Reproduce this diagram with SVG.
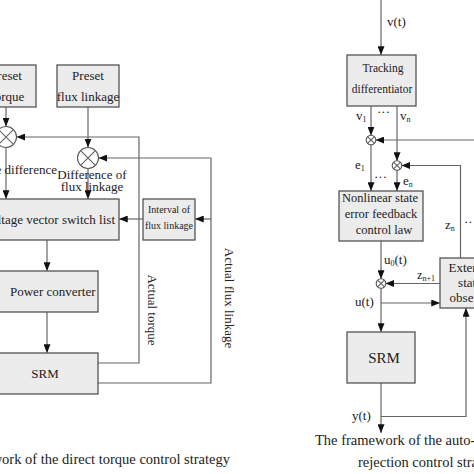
<svg xmlns="http://www.w3.org/2000/svg" width="474" height="474" viewBox="0 0 474 474">
<style>
.box{fill:#ececec;stroke:#555;stroke-width:1.3}
.ln{fill:none;stroke:#666;stroke-width:1.2}
.sum{fill:#fff;stroke:#555;stroke-width:1.1}
text{font-family:"Liberation Serif","Times New Roman",serif;fill:#222}
.t13{font-size:13px}
.t12{font-size:12.5px}
.t10{font-size:10px}
.cap{font-size:14.5px}
.mid{text-anchor:middle}
</style>
<defs>
<marker id="ah" viewBox="0 0 10 8" refX="10" refY="4" markerWidth="9" markerHeight="7" markerUnits="userSpaceOnUse" orient="auto">
<path d="M0,0 L10,4 L0,8 z" fill="#111"/>
</marker>
</defs>
<rect width="474" height="474" fill="#fff"/>

<g id="connectors">
<path class="ln" d="M6,107 V126.5" marker-end="url(#ah)"/>
<path class="ln" d="M88,107 V147.5" marker-end="url(#ah)"/>
<path class="ln" d="M6,147.5 V199" marker-end="url(#ah)"/>
<path class="ln" d="M88,168.5 V199" marker-end="url(#ah)"/>
<path class="ln" d="M98,363 H139 V137 H16.5" marker-end="url(#ah)"/>
<path class="ln" d="M98,383 H211 V158 H98.5" marker-end="url(#ah)"/>
<path class="ln" d="M211,219 H195" marker-end="url(#ah)"/>
<path class="ln" d="M143,219 H119" marker-end="url(#ah)"/>
<path class="ln" d="M47,240 V271" marker-end="url(#ah)"/>
<path class="ln" d="M47,312 V353" marker-end="url(#ah)"/>
<path class="ln" d="M381,0 V55" marker-end="url(#ah)"/>
<path class="ln" d="M371,106 V135.5" marker-end="url(#ah)"/>
<path class="ln" d="M397,106 V161" marker-end="url(#ah)"/>
<path class="ln" d="M480,140 H375.5" marker-end="url(#ah)"/>
<path class="ln" d="M460.5,258 V165.5 H401.5" marker-end="url(#ah)"/>
<path class="ln" d="M371,144.5 V191" marker-end="url(#ah)"/>
<path class="ln" d="M397,170 V191" marker-end="url(#ah)"/>
<path class="ln" d="M381,241 V279" marker-end="url(#ah)"/>
<path class="ln" d="M440,283.5 H385.5" marker-end="url(#ah)"/>
<path class="ln" d="M381,288 V332" marker-end="url(#ah)"/>
<path class="ln" d="M381,303 H440" marker-end="url(#ah)"/>
<path class="ln" d="M381,383 V433" marker-end="url(#ah)"/>
<path class="ln" d="M381,416.5 H466 V308" marker-end="url(#ah)"/>
</g>

<g id="preset-torque">
<rect class="box" x="-24" y="65" width="60" height="42"/>
<text class="t13 mid" x="6" y="80">Preset</text>
<text class="t13 mid" x="6" y="101">Torque</text>
</g>
<g id="preset-flux">
<rect class="box" x="57" y="65" width="62" height="42"/>
<text class="t13 mid" x="88" y="80">Preset</text>
<text class="t13 mid" x="88" y="101">flux linkage</text>
</g>
<g id="sum-torque">
<circle class="sum" cx="6" cy="137" r="10.5"/>
<path class="ln" d="M-1.4,129.6 L13.4,144.4 M13.4,129.6 L-1.4,144.4"/>
<text class="t13" x="57" y="174" text-anchor="end">Torque difference</text>
</g>
<g id="sum-flux">
<circle class="sum" cx="88" cy="158" r="10.5"/>
<path class="ln" d="M80.6,150.6 L95.4,165.4 M95.4,150.6 L80.6,165.4"/>
<text class="t13 mid" x="92" y="179">Difference of</text>
<text class="t13 mid" x="92" y="191">flux linkage</text>
</g>
<g id="voltage-list">
<rect class="box" x="-40" y="199" width="159" height="41"/>
<text class="t13" x="115" y="224" text-anchor="end">Voltage vector switch list</text>
</g>
<g id="interval">
<rect class="box" x="143" y="199" width="52" height="41"/>
<text class="t10 mid" x="169" y="213">Interval of</text>
<text class="t10 mid" x="169" y="229">flux linkage</text>
</g>
<g id="power-converter">
<rect class="box" x="-40" y="271" width="138" height="41"/>
<text class="t13" x="10" y="296">Power converter</text>
</g>
<g id="srm-left">
<rect class="box" x="-40" y="353" width="138" height="41"/>
<text class="t13 mid" x="45" y="378">SRM</text>
</g>
<g id="labels-left">
<text class="t13 mid" transform="translate(152,310) rotate(90)" dominant-baseline="central">Actual torque</text>
<text class="t13 mid" transform="translate(229,298) rotate(90)" dominant-baseline="central">Actual flux linkage</text>
<text class="cap" x="230" y="464" text-anchor="end">The framework of the direct torque control strategy</text>
</g>

<g id="tracking">
<rect class="box" x="347" y="55" width="69" height="51"/>
<text class="mid" style="font-size:11.5px" x="383" y="72">Tracking</text>
<text class="mid" style="font-size:11.5px" x="382" y="93">differentiator</text>
</g>
<g id="sum1">
<circle class="sum" cx="371" cy="140" r="4.8"/>
<path class="ln" d="M367.6,136.6 L374.4,143.4 M374.4,136.6 L367.6,143.4"/>
</g>
<g id="sum2">
<circle class="sum" cx="397" cy="165.5" r="4.8"/>
<path class="ln" d="M393.6,162.1 L400.4,168.9 M400.4,162.1 L393.6,168.9"/>
</g>
<g id="nlsef">
<rect class="box" x="339" y="191" width="84" height="50"/>
<text class="t12 mid" x="380" y="202">Nonlinear state</text>
<text class="t12 mid" x="381" y="218">error feedback</text>
<text class="t12 mid" x="384" y="234">control law</text>
</g>
<g id="sum3">
<circle class="sum" cx="381" cy="283.5" r="4.8"/>
<path class="ln" d="M377.6,280.1 L384.4,286.9 M384.4,280.1 L377.6,286.9"/>
</g>
<g id="eso">
<rect class="box" x="440" y="258" width="64" height="50"/>
<text class="t13 mid" x="473" y="272">Extended</text>
<text class="t13 mid" x="470" y="287">state</text>
<text class="t13 mid" x="472" y="302">observer</text>
</g>
<g id="srm-right">
<rect class="box" x="347" y="332" width="68" height="51"/>
<text class="mid" style="font-size:15px" x="384" y="363">SRM</text>
</g>
<g id="labels-right">
<text class="t13" x="387" y="26">v(t)</text>
<text class="t13" x="356" y="120">v<tspan font-size="8" dy="2">1</tspan></text>
<text class="t13" x="377" y="116">···</text>
<text class="t13" x="400" y="120">v<tspan font-size="8" dy="2">n</tspan></text>
<text class="t13" x="355" y="169">e<tspan font-size="8" dy="2">1</tspan></text>
<text class="t13" x="374" y="181">···</text>
<text class="t13" x="403" y="185">e<tspan font-size="8" dy="2">n</tspan></text>
<text class="t13" x="445" y="229">z<tspan font-size="8" dy="2">n</tspan></text>
<text class="t13" x="464" y="226">··</text>
<text class="t13" x="384" y="264">u<tspan font-size="8" dy="2">0</tspan><tspan dy="-2">(t)</tspan></text>
<text class="t12" x="417" y="279">z<tspan font-size="8" dy="2">n+1</tspan></text>
<text class="t13" x="355" y="306">u(t)</text>
<text class="t13" x="352" y="420">y(t)</text>
<text class="cap" x="315" y="445">The framework of the auto-disturbance</text>
<text class="cap" x="358" y="467">rejection control strategy</text>
</g>
</svg>
